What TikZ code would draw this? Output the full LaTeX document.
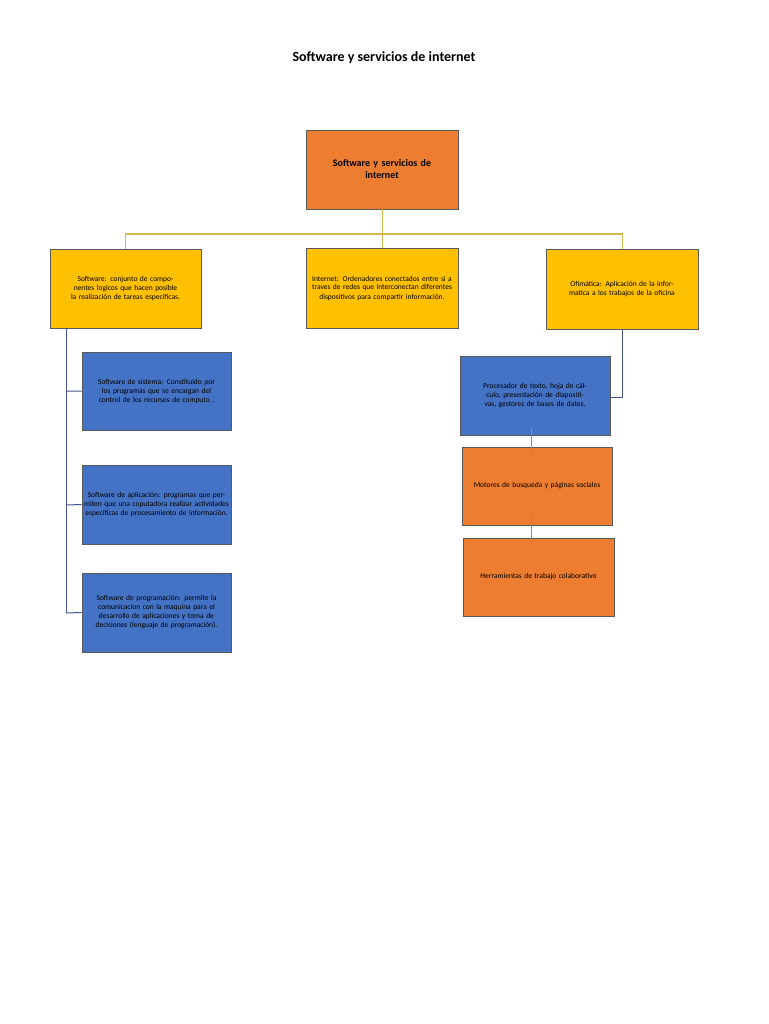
\documentclass[tikz,border=0pt]{standalone}
\usepackage{fontspec}
\setmainfont{Carlito}
\begin{document}
\begin{tikzpicture}[x=1pt,y=-1pt,
 bx/.style={draw=black!65,line width=0.8pt,align=center,inner sep=2pt,font=\fontsize{7.5}{9}\selectfont},
 org/.style={bx,fill=orange!85!red!90!yellow,fill={rgb,255:red,237;green,125;blue,49}},
 yel/.style={bx,fill={rgb,255:red,255;green,192;blue,0}},
 blu/.style={bx,fill={rgb,255:red,68;green,114;blue,196}},
 gl/.style={draw={rgb,255:red,214;green,184;blue,80},line width=1pt},
 bl/.style={draw={rgb,255:red,68;green,84;blue,140},line width=1pt},
 lb/.style={draw={rgb,255:red,91;green,155;blue,213},line width=1pt}]
\useasboundingbox (0,0) rectangle (768,1024);
\node[font=\fontsize{14}{16}\selectfont\bfseries] (title) at (384,58) {Software y servicios de internet};
\coordinate (bar) at (0,234);
\coordinate (L) at (66,0);
\coordinate (R) at (622,0);
% connectors first
\node[org,minimum width=152pt,minimum height=79pt,text width=130pt,font=\fontsize{10}{12}\selectfont\bfseries] (top) at (382,169.5) {Software y servicios de\\internet};
\path[gl] (top.south) |- (125,234) -- (622,234) -- (622,249);
\path[gl] (125,234) -- (125,249) (382,234) -- (382,248);
\node[yel,minimum width=151pt,minimum height=79pt,text width=125pt] (sw) at (125.5,288.5) {Software: conjunto de componentes logicos que hacen posible la realización de tareas especificas.};
\node[yel,minimum width=152pt,minimum height=80pt,text width=145pt] (inet) at (382,288) {Internet: Ordenadores conectados entre si a traves de redes que interconectan diferentes dispositivos para compartir información.};
\node[yel,minimum width=152pt,minimum height=80pt,text width=130pt] (ofi) at (622,289) {Ofimática: Aplicación de la informatica a los trabajos de la oficina};
\node[blu,minimum width=149pt,minimum height=78pt,text width=145pt] (b1) at (156.5,391) {Software de sistema: Constituido por los programas que se encargan del control de los recursos de computo .};
\node[blu,minimum width=149pt,minimum height=79pt,text width=145pt] (b2) at (156.5,504.5) {Software de aplicación: programas que permiten que una coputadora realizar actividades especificas de procesamiento de información.};
\node[blu,minimum width=149pt,minimum height=79pt,text width=145pt] (b3) at (156.5,612.5) {Software de programación: permite la comunicacion con la maquina para el desarrollo de aplicaciones y toma de decisiones (lenguaje de programación).};
\draw[bl] (66,328) -- (66,613);
\draw[bl] (66,391) -- (b1.west) (66,505) -- (b2.west) (66,613) -- (b3.west);
\draw[bl] (ofi.south) -- (622,397) -- (610,397);
\node[blu,minimum width=150pt,minimum height=79pt,text width=140pt] (r1) at (535,395.5) {Procesador de texto, hoja de cálculo, presentación de diapositivas, gestores de bases de datos.};
\node[org,minimum width=150pt,minimum height=78pt,text width=140pt] (r2) at (537,486) {Motores de busqueda y páginas sociales};
\node[org,minimum width=151pt,minimum height=78pt,text width=140pt] (r3) at (538.5,577) {Herramientas de trabajo colaborativo};
\draw[lb] (531,428) -- (531,458);
\draw[lb] (531,513) -- (531,545);
\end{tikzpicture}
\end{document}
